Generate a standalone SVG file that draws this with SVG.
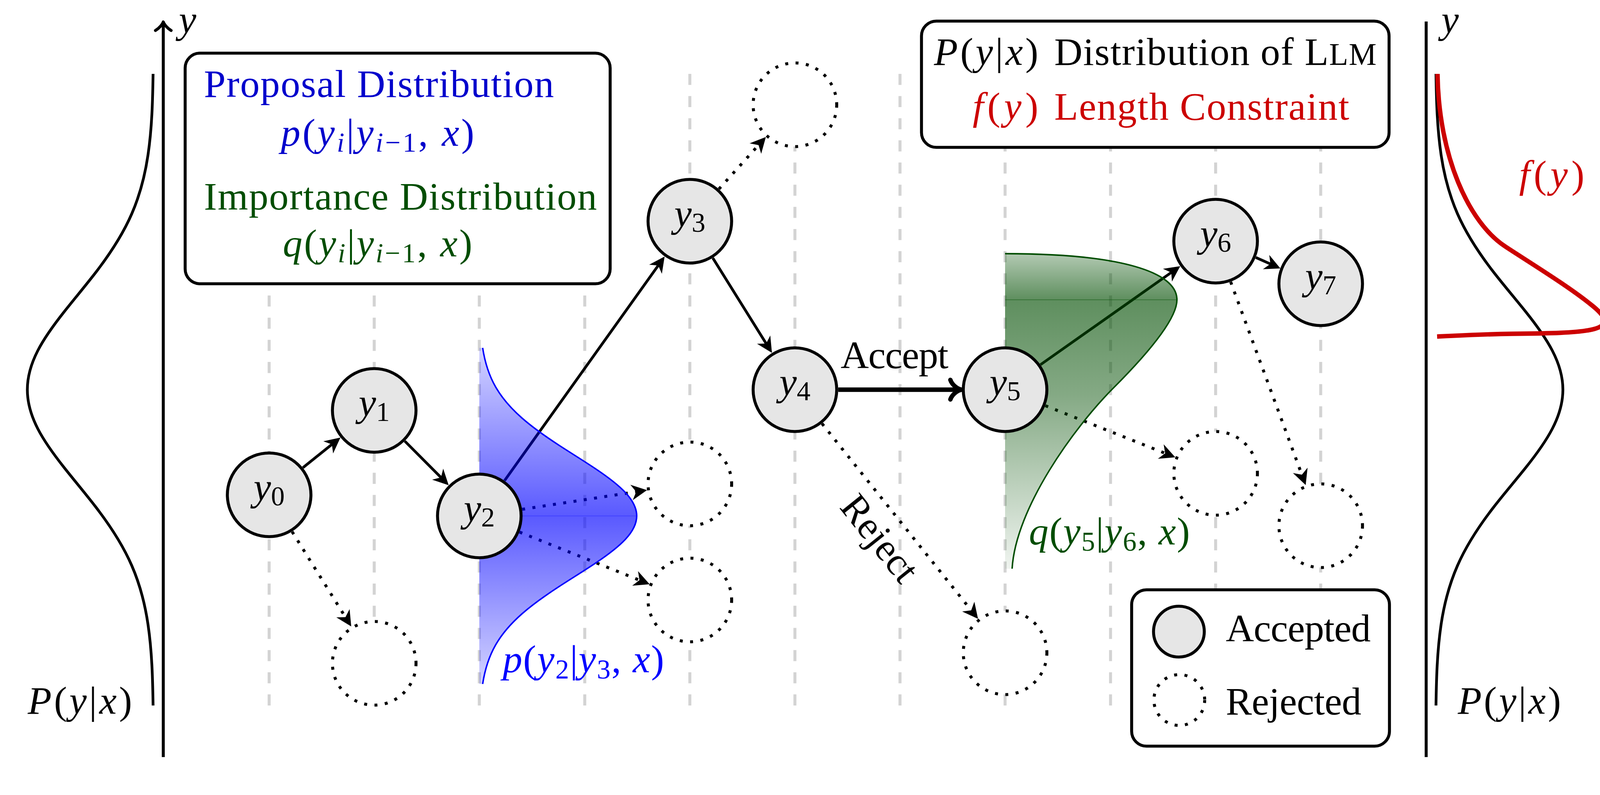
<svg xmlns="http://www.w3.org/2000/svg" width="4163" height="2034" viewBox="0 0 4163 2034">
<defs>
<style>
.t{font-family:"Liberation Serif","Times New Roman",serif;font-size:100px}
.m{font-family:"Liberation Serif","Times New Roman",serif;font-size:100px;font-style:italic}
.rm{font-style:normal}
.si{font-size:70px;font-style:italic}
.sr{font-size:70px;font-style:normal}
.nl{font-family:"Liberation Serif","Times New Roman",serif;font-size:100px;font-style:italic;text-anchor:middle}
.ns{font-size:70px;font-style:normal}
.grid{stroke:#d3d3d3;stroke-width:7.6;stroke-dasharray:28.3 28.4;fill:none}
.acc{fill:#e6e6e6;stroke:#000;stroke-width:7.6}
.rej{fill:#fff;stroke:#000;stroke-width:7.6;stroke-dasharray:7.6 19}
.box{fill:#fff;stroke:#000;stroke-width:7.6}
.arr{stroke:#000;stroke-width:7;fill:none;marker-end:url(#st)}
.dot{stroke:#000;stroke-width:7.6;stroke-dasharray:7.6 19;fill:none;marker-end:url(#st)}
.pc{stroke:#000;stroke-width:7;fill:none}
.to{stroke:#000;fill:none;stroke-linecap:round;stroke-linejoin:round}
</style>
<marker id="st" viewBox="-44 -24 46 48" refX="-26" refY="0" markerWidth="46" markerHeight="48" markerUnits="userSpaceOnUse" orient="auto">
<path d="M0,0 L-40,-20 L-28,0 L-40,20 Z" fill="#000"/>
</marker>
<linearGradient id="gb" gradientUnits="userSpaceOnUse" x1="0" y1="890" x2="0" y2="1750">
<stop offset="0" stop-color="#0000ff" stop-opacity="0.17"/>
<stop offset="0.5" stop-color="#0000ff" stop-opacity="0.65"/>
<stop offset="1" stop-color="#0000ff" stop-opacity="0.17"/>
</linearGradient>
<linearGradient id="gg" gradientUnits="userSpaceOnUse" x1="0" y1="649" x2="0" y2="1455">
<stop offset="0" stop-color="#004d00" stop-opacity="0.3"/>
<stop offset="0.146" stop-color="#004d00" stop-opacity="0.63"/>
<stop offset="0.45" stop-color="#004d00" stop-opacity="0.48"/>
<stop offset="1" stop-color="#004d00" stop-opacity="0.06"/>
</linearGradient>
</defs>
<rect width="4163" height="2034" fill="#fff"/>

<g id="grid">
<path class="grid" d="M689,189V1805M958,189V1805M1227,189V1805M1497,189V1805M1766,189V1805M2035,189V1805M2304,189V1805M2573,189V1805M2843,189V1805M3112,189V1805M3381,189V1805"/>
</g>

<g id="left-axis">
<path class="pc" d="M391.9,189 C390.8,258.3 389.1,327.7 378.8,397 C371.4,447 359.1,497 337.3,547 C315.6,597 283.6,647 245.1,697 C219.4,730.3 191.2,763.7 164.8,797 C138.4,830.3 113.9,863.7 96.8,897 C79.7,930.3 70,963.7 70,997 C70,1030.3 79.7,1063.7 96.8,1097 C113.9,1130.3 138.4,1163.7 164.8,1197 C191.2,1230.3 219.4,1263.7 245.1,1297 C283.6,1347 315.6,1397 337.3,1447 C359.1,1497 371.4,1547 378.8,1597 C389.1,1666.3 390.8,1735.7 391.9,1805"/>
<path d="M418,1937V60" stroke="#000" stroke-width="7.6"/>
<path class="to" stroke-width="7.6" d="M398,78 C408,72 416,62 418,56 C420,62 428,72 438,78"/>
<text class="m" x="458" y="84" font-size="92">y</text>
<text class="m" x="71" y="1826" textLength="267" lengthAdjust="spacing">P<tspan class="rm">(</tspan>y<tspan class="rm">|</tspan>x<tspan class="rm">)</tspan></text>
</g>

<g id="right-axis">
<path d="M3651,55V1937" stroke="#000" stroke-width="7.6"/>
<path class="pc" d="M3676.1,189 C3677.2,258.3 3679,327.7 3689.3,397 C3696.8,447 3709.3,497 3731.2,547 C3753.2,597 3785.3,647 3824.2,697 C3850.1,730.3 3878.7,763.7 3905.4,797 C3932.1,830.3 3956.6,863.7 3973.9,897 C3991.2,930.3 4001,963.7 4001,997 C4001,1030.3 3991.2,1063.7 3973.9,1097 C3956.6,1130.3 3932.1,1163.7 3905.4,1197 C3878.7,1230.3 3850.1,1263.7 3824.2,1297 C3785.3,1347 3753.2,1397 3731.2,1447 C3709.3,1497 3696.8,1547 3689.3,1597 C3679,1666.3 3677.2,1735.7 3676.1,1805"/>
<path d="M3680,189 C3683,400 3760,570 3854,631 C3910,668 4020,735 4080,785 C4158,850 4060,852 3870,854 C3800,855 3720,859 3679,861" stroke="#cc0000" stroke-width="11.4" fill="none"/>
<text class="m" x="3690" y="84" font-size="92">y</text>
<text class="m" x="3889" y="480" fill="#cc0000" textLength="167" lengthAdjust="spacing">f<tspan class="rm">(</tspan>y<tspan class="rm">)</tspan></text>
<text class="m" x="3732" y="1826" textLength="264" lengthAdjust="spacing">P<tspan class="rm">(</tspan>y<tspan class="rm">|</tspan>x<tspan class="rm">)</tspan></text>
</g>

<g id="connectors">
<path class="arr" d="M775.5,1196.5 L851.2,1135.8"/>
<path class="arr" d="M1036.3,1128.6 L1130.3,1223"/>
<path class="arr" d="M1291.6,1229.7 L1686.3,677.5"/>
<path class="arr" d="M1824.8,660.2 L1962.4,880.7"/>
<path d="M2146,997 L2456,997" stroke="#000" stroke-width="11.4"/>
<path class="to" stroke-width="11.4" d="M2433,972 C2437,984 2450,995 2462,997 C2450,999 2437,1010 2433,1022"/>
<path class="arr" d="M2663.7,933 L3000.1,696"/>
<path class="arr" d="M3214.9,658.7 L3254,676.1"/>
<path class="dot" d="M747.8,1360.2 L885.4,1580.7"/>
<path class="dot" d="M1840.4,483.6 L1943.2,369.7"/>
<path class="dot" d="M1336.7,1303.1 L1630.6,1257.9"/>
<path class="dot" d="M1330,1361.3 L1638.9,1485.1"/>
<path class="dot" d="M2104.3,1083.7 L2487.5,1563"/>
<path class="dot" d="M2676.2,1038 L2984.6,1160.4"/>
<path class="dot" d="M3150.5,721.1 L3333.5,1216.5"/>
<text class="t" x="2152" y="942" textLength="276" lengthAdjust="spacing">Accept</text>
<text class="t" transform="translate(2147,1298) rotate(51.4)">Reject</text>
</g>

<g id="proposal-dist">
<path d="M1227,890 L1235.6,890 C1240.7,923.3 1249.7,956.7 1268.8,990 C1284.1,1016.7 1306.3,1043.3 1336.8,1070 C1363.4,1093.3 1396.5,1116.7 1432.3,1140 C1463.1,1160 1495.8,1180 1525.6,1200 C1555.4,1220 1582.2,1240 1600.9,1260 C1619.6,1280 1630,1300 1630,1320 C1630,1340 1619.6,1360 1600.9,1380 C1582.2,1400 1555.4,1420 1525.6,1440 C1495.8,1460 1463.1,1480 1432.3,1500 C1396.5,1523.3 1363.4,1546.7 1336.8,1570 C1306.3,1596.7 1284.1,1623.3 1268.8,1650 C1249.7,1683.3 1240.7,1716.7 1235.6,1750 L1227,1750 Z" fill="url(#gb)"/>
<path d="M1227,1320 H1630" stroke="#3030ff" stroke-width="2" opacity="0.5"/>
<path d="M1235.6,890 C1240.7,923.3 1249.7,956.7 1268.8,990 C1284.1,1016.7 1306.3,1043.3 1336.8,1070 C1363.4,1093.3 1396.5,1116.7 1432.3,1140 C1463.1,1160 1495.8,1180 1525.6,1200 C1555.4,1220 1582.2,1240 1600.9,1260 C1619.6,1280 1630,1300 1630,1320 C1630,1340 1619.6,1360 1600.9,1380 C1582.2,1400 1555.4,1420 1525.6,1440 C1495.8,1460 1463.1,1480 1432.3,1500 C1396.5,1523.3 1363.4,1546.7 1336.8,1570 C1306.3,1596.7 1284.1,1623.3 1268.8,1650 C1249.7,1683.3 1240.7,1716.7 1235.6,1750" stroke="#0000ff" stroke-width="3.8" fill="none"/>
<text class="m" x="1287" y="1720" fill="#0000ff" textLength="413" lengthAdjust="spacing">p<tspan class="rm">(</tspan>y<tspan class="sr" dy="16">2</tspan><tspan class="rm" dy="-16">|</tspan>y<tspan class="sr" dy="16">3</tspan><tspan class="rm" dy="-16">, </tspan>x<tspan class="rm">)</tspan></text>
</g>

<g id="importance-dist">
<path d="M2573,649 C2873,649 3013,697 3013,767 C3013,827 2900,943 2850,993 C2750,1093 2600,1300 2591,1455 L2573,1455 Z" fill="url(#gg)"/>
<path d="M2573,767 H3013" stroke="#004d00" stroke-width="2" opacity="0.4"/>
<path d="M2573,649 C2873,649 3013,697 3013,767 C3013,827 2900,943 2850,993 C2750,1093 2600,1300 2591,1455" stroke="#004d00" stroke-width="3.8" fill="none"/>
<text class="m" x="2634" y="1393" fill="#004d00" textLength="412" lengthAdjust="spacing">q<tspan class="rm">(</tspan>y<tspan class="sr" dy="16">5</tspan><tspan class="rm" dy="-16">|</tspan>y<tspan class="sr" dy="16">6</tspan><tspan class="rm" dy="-16">, </tspan>x<tspan class="rm">)</tspan></text>
</g>

<g id="y0"><circle class="acc" cx="689" cy="1266" r="107"/><text class="nl" x="689" y="1280">y<tspan class="ns" dy="13">0</tspan></text></g>
<g id="y1"><circle class="acc" cx="958" cy="1050" r="107"/><text class="nl" x="958" y="1064">y<tspan class="ns" dy="13">1</tspan></text></g>
<g id="y2"><circle class="acc" cx="1227" cy="1320" r="107"/><text class="nl" x="1227" y="1334">y<tspan class="ns" dy="13">2</tspan></text></g>
<g id="y3"><circle class="acc" cx="1766" cy="566" r="107"/><text class="nl" x="1766" y="580">y<tspan class="ns" dy="13">3</tspan></text></g>
<g id="y4"><circle class="acc" cx="2035" cy="997" r="107"/><text class="nl" x="2035" y="1011">y<tspan class="ns" dy="13">4</tspan></text></g>
<g id="y5"><circle class="acc" cx="2573" cy="997" r="107"/><text class="nl" x="2573" y="1011">y<tspan class="ns" dy="13">5</tspan></text></g>
<g id="y6"><circle class="acc" cx="3112" cy="617" r="107"/><text class="nl" x="3112" y="631">y<tspan class="ns" dy="13">6</tspan></text></g>
<g id="y7"><circle class="acc" cx="3381" cy="726" r="107"/><text class="nl" x="3381" y="740">y<tspan class="ns" dy="13">7</tspan></text></g>

<g id="r0"><circle class="rej" cx="958" cy="1697" r="107"/></g>
<g id="r3"><circle class="rej" cx="2035" cy="268" r="107"/></g>
<g id="r2a"><circle class="rej" cx="1766" cy="1238" r="107"/></g>
<g id="r2b"><circle class="rej" cx="1766" cy="1535" r="107"/></g>
<g id="r4"><circle class="rej" cx="2573" cy="1670" r="107"/></g>
<g id="r5"><circle class="rej" cx="3112" cy="1211" r="107"/></g>
<g id="r6"><circle class="rej" cx="3381" cy="1345" r="107"/></g>

<g id="legend-dist">
<rect class="box" x="474" y="136" width="1088" height="590" rx="38"/>
<text class="t" x="522" y="248" fill="#0000cc" textLength="896" lengthAdjust="spacing">Proposal Distribution</text>
<text class="m" x="719" y="373" fill="#0000cc" textLength="495" lengthAdjust="spacing">p<tspan class="rm">(</tspan>y<tspan class="si" dy="15">i</tspan><tspan class="rm" dy="-15">|</tspan>y<tspan class="si" dy="15">i</tspan><tspan class="sr">−1</tspan><tspan class="rm" dy="-15">, </tspan>x<tspan class="rm">)</tspan></text>
<text class="t" x="522" y="536" fill="#004d00" textLength="1006" lengthAdjust="spacing">Importance Distribution</text>
<text class="m" x="724" y="656" fill="#004d00" textLength="485" lengthAdjust="spacing">q<tspan class="rm">(</tspan>y<tspan class="si" dy="15">i</tspan><tspan class="rm" dy="-15">|</tspan>y<tspan class="si" dy="15">i</tspan><tspan class="sr">−1</tspan><tspan class="rm" dy="-15">, </tspan>x<tspan class="rm">)</tspan></text>
</g>

<g id="legend-llm">
<rect class="box" x="2359" y="54" width="1197" height="323" rx="38"/>
<text class="m" x="2391" y="166" textLength="267" lengthAdjust="spacing">P<tspan class="rm">(</tspan>y<tspan class="rm">|</tspan>x<tspan class="rm">)</tspan></text>
<text class="t" x="2699" y="166" textLength="825" lengthAdjust="spacing">Distribution of L<tspan font-size="80">LM</tspan></text>
<text class="m" x="2490" y="306" fill="#cc0000" textLength="168" lengthAdjust="spacing">f<tspan class="rm">(</tspan>y<tspan class="rm">)</tspan></text>
<text class="t" x="2699" y="306" fill="#cc0000" textLength="755" lengthAdjust="spacing">Length Constraint</text>
</g>

<g id="legend-nodes">
<rect class="box" x="2897" y="1509" width="660" height="400" rx="38"/>
<circle class="acc" cx="3018" cy="1616" r="65"/>
<circle class="rej" cx="3019" cy="1791" r="65"/>
<text class="t" x="3138" y="1641" textLength="371" lengthAdjust="spacing">Accepted</text>
<text class="t" x="3138" y="1828" textLength="347" lengthAdjust="spacing">Rejected</text>
</g>
</svg>
